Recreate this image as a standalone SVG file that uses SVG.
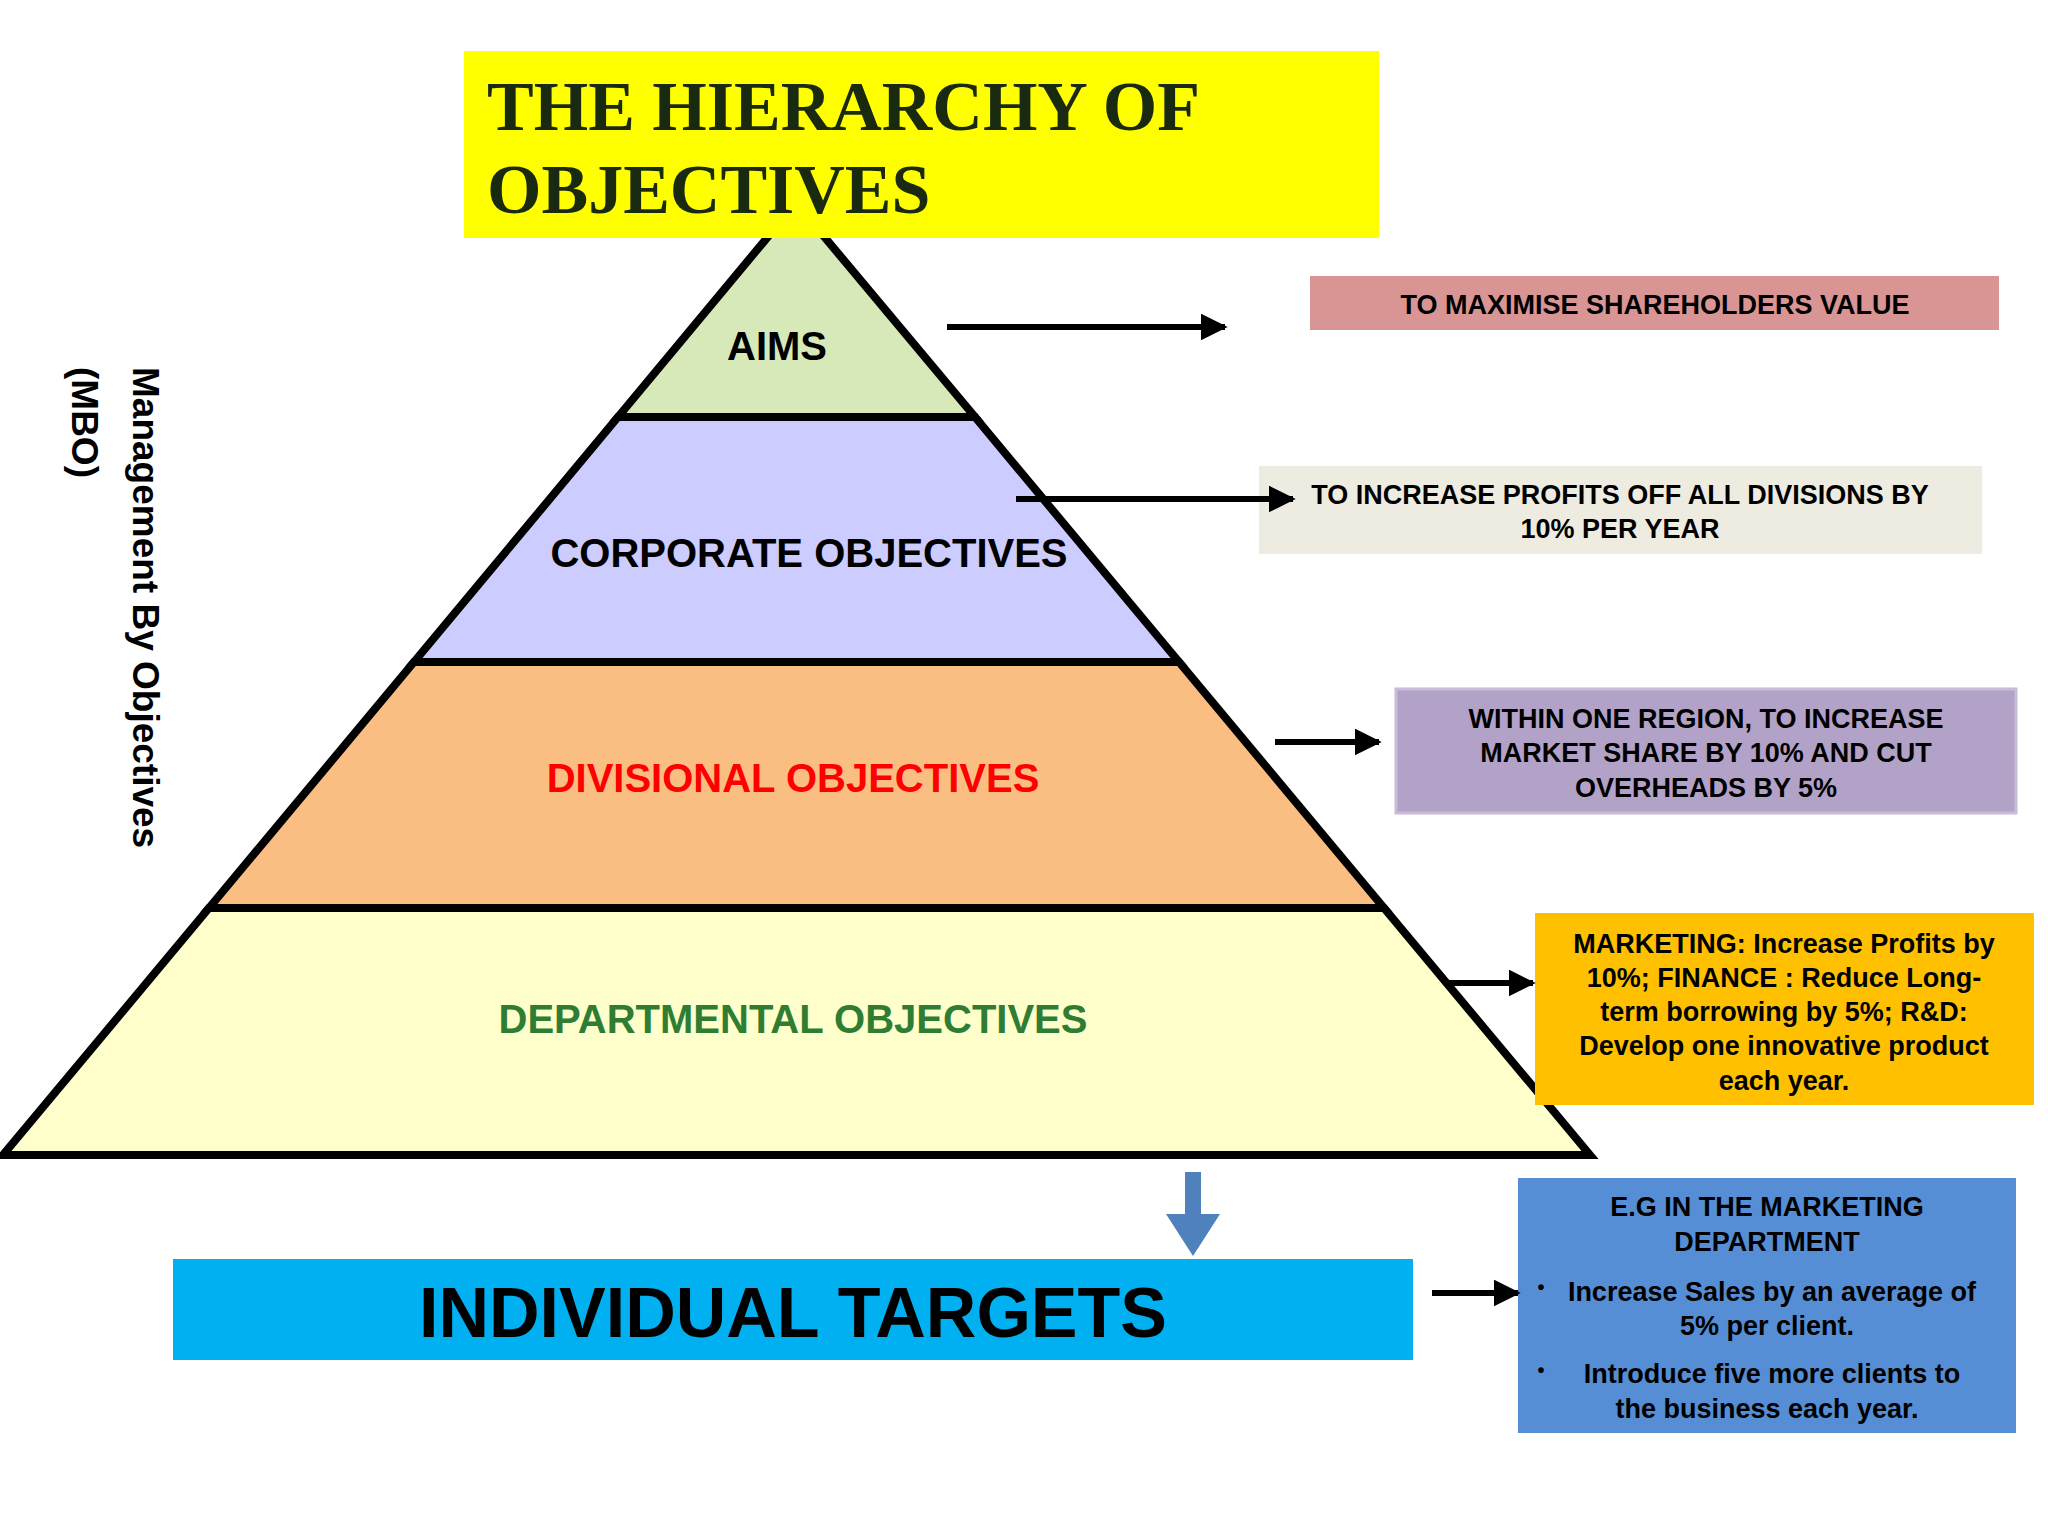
<svg xmlns="http://www.w3.org/2000/svg" width="2048" height="1536" viewBox="0 0 2048 1536">
<style>
.t{font-family:"Liberation Sans",Arial,sans-serif;font-weight:bold;text-anchor:middle}
.s{font-size:27px;fill:#000}
.lay{stroke:#000;stroke-width:8;stroke-linejoin:miter}
.ar{stroke:#000;stroke-width:6;marker-end:url(#ah)}
</style>
<defs>
<marker id="ah" viewBox="0 0 10 10" refX="9" refY="5" markerWidth="4.5" markerHeight="4.5" orient="auto" markerUnits="strokeWidth"><path d="M0,0L10,5L0,10z" fill="#000"/></marker>
</defs>
<rect width="2048" height="1536" fill="#fff"/>
<g id="pyramid">
<polygon class="lay" points="3,1155 209,908 1384,908 1590,1155" fill="#ffffcc"/>
<polygon class="lay" points="209,908 414,662 1179,662 1384,908" fill="#fbbe82"/>
<polygon class="lay" points="414,662 618,417 975,417 1179,662" fill="#ccccff"/>
<polygon class="lay" points="618,417 796,203 975,417" fill="#d7e9b9"/>
<text class="t" x="777" y="360" font-size="40">AIMS</text>
<text class="t" x="809" y="567" font-size="40">CORPORATE OBJECTIVES</text>
<text class="t" x="793" y="792" font-size="40" fill="#ff0000">DIVISIONAL OBJECTIVES</text>
<text class="t" x="793" y="1033" font-size="40" fill="#2e7d32">DEPARTMENTAL OBJECTIVES</text>
</g>
<g id="title">
<rect x="464" y="51" width="915" height="187" fill="#ffff00"/>
<text x="487" y="130" font-family="Liberation Serif,serif" font-weight="bold" font-size="70" fill="#1a2a10">THE HIERARCHY OF</text>
<text x="487" y="213" font-family="Liberation Serif,serif" font-weight="bold" font-size="70" fill="#1a2a10">OBJECTIVES</text>
</g>
<g id="mbo" font-family="Liberation Sans,Arial,sans-serif" font-weight="bold" font-size="37">
<text transform="translate(133,367) rotate(90)">Management By Objectives</text>
<text transform="translate(72,367) rotate(90)">(MBO)</text>
</g>
<g id="individual">
<rect x="173" y="1259" width="1240" height="101" fill="#00b0f0"/>
<text class="t" x="793" y="1337" font-size="70">INDIVIDUAL TARGETS</text>
</g>
<g id="box-aims">
<rect x="1310" y="276" width="689" height="54" fill="#d99594"/>
<text class="t s" x="1655" y="314">TO MAXIMISE SHAREHOLDERS VALUE</text>
</g>
<g id="box-corp">
<rect x="1259" y="466" width="723" height="88" fill="#eeece1"/>
<text class="t s" x="1620" y="504">TO INCREASE PROFITS OFF ALL DIVISIONS BY</text>
<text class="t s" x="1620" y="538">10% PER YEAR</text>
</g>
<g id="box-div">
<rect x="1396" y="689" width="620" height="124" fill="#b2a2c7" stroke="#c8bcd8" stroke-width="3"/>
<text class="t s" x="1706" y="728">WITHIN ONE REGION, TO INCREASE</text>
<text class="t s" x="1706" y="762">MARKET SHARE BY 10% AND CUT</text>
<text class="t s" x="1706" y="797">OVERHEADS BY 5%</text>
</g>
<g id="box-dept">
<rect x="1535" y="913" width="499" height="192" fill="#ffc000"/>
<text class="t s" x="1784" y="953">MARKETING: Increase Profits by</text>
<text class="t s" x="1784" y="987">10%; FINANCE : Reduce Long-</text>
<text class="t s" x="1784" y="1021">term borrowing by 5%; R&amp;D:</text>
<text class="t s" x="1784" y="1055">Develop one innovative product</text>
<text class="t s" x="1784" y="1090">each year.</text>
</g>
<g id="box-ind">
<rect x="1518" y="1178" width="498" height="255" fill="#558ed5"/>
<text class="t s" x="1767" y="1216">E.G IN THE MARKETING</text>
<text class="t s" x="1767" y="1251">DEPARTMENT</text>
<text class="t" x="1541" y="1294" font-size="20">•</text>
<text class="t s" x="1772" y="1301">Increase Sales by an average of</text>
<text class="t s" x="1767" y="1335">5% per client.</text>
<text class="t" x="1541" y="1377" font-size="20">•</text>
<text class="t s" x="1772" y="1383">Introduce five more clients to</text>
<text class="t s" x="1767" y="1418">the business each  year.</text>
</g>
<g id="connectors">
<line class="ar" x1="947" y1="327" x2="1225" y2="327"/>
<line class="ar" x1="1016" y1="499" x2="1293" y2="499"/>
<line class="ar" x1="1275" y1="742" x2="1379" y2="742"/>
<line class="ar" x1="1448" y1="983" x2="1533" y2="983"/>
<line class="ar" x1="1432" y1="1293" x2="1518" y2="1293"/>
<polygon points="1185,1172 1201,1172 1201,1214 1220,1214 1193,1256 1166,1214 1185,1214" fill="#4f81bd"/>
</g>
</svg>
